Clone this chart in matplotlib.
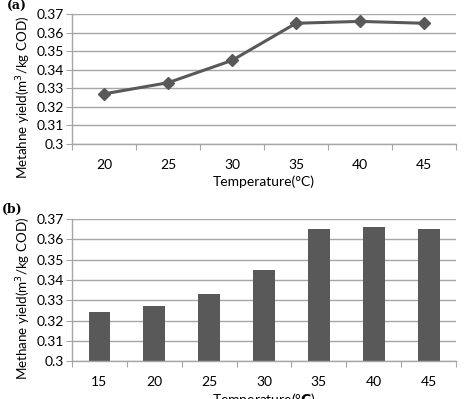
import numpy as np
import matplotlib
matplotlib.use('Agg')
import matplotlib.pyplot as plt

plt.rcParams['font.family'] = ['Lato', 'DejaVu Sans']

temps_a = ['20', '25', '30', '35', '40', '45']
yield_a = [0.327, 0.333, 0.345, 0.365, 0.366, 0.365]

temps_b = ['15', '20', '25', '30', '35', '40', '45']
yield_b = [0.324, 0.327, 0.333, 0.345, 0.365, 0.366, 0.365]

yticks = [0.3, 0.31, 0.32, 0.33, 0.34, 0.35, 0.36, 0.37]
ytick_labels = ['0.3', '0.31', '0.32', '0.33', '0.34', '0.35', '0.36', '0.37']

grid_c = '#a6a6a6'
dark = '#595959'

fig = plt.figure(figsize=(4.74, 3.99), dpi=100)


def style(ax, n):
    ax.set_xlim(-0.5, n - 0.5)
    ax.set_ylim(0.3, 0.37)
    ax.set_yticks(yticks)
    ax.set_yticklabels(ytick_labels)
    ax.yaxis.grid(True, color=grid_c, linewidth=1.0)
    ax.set_axisbelow(True)
    for s in ['top', 'right']:
        ax.spines[s].set_visible(False)
    for s in ['left', 'bottom']:
        ax.spines[s].set_color(grid_c)
        ax.spines[s].set_linewidth(1.0)
    # ticks on category boundaries, labels centred
    ax.set_xticks(np.arange(n + 1) - 0.5)
    ax.set_xticklabels([])
    ax.set_xticks(np.arange(n), minor=True)
    ax.tick_params(axis='x', which='major', length=4, color=grid_c, direction='out')
    ax.tick_params(axis='x', which='minor', length=0, labelsize=10, pad=11)
    ax.tick_params(axis='y', length=4, color=grid_c, labelsize=10, pad=2)


# (a) line chart
ax1 = fig.add_axes([0.152, 0.639, 0.810, 0.326])
x1 = np.arange(len(temps_a))
ax1.plot(x1, yield_a, color=dark, linewidth=2.2, marker='D', markersize=6.5,
         markerfacecolor=dark, markeredgecolor=dark)
style(ax1, len(temps_a))
ax1.set_xticklabels(temps_a, minor=True)
ax1.set_xlabel('Temperature(°C)', fontsize=10, labelpad=3)
ax1.set_ylabel('Metahne yield(m$^3$/kg COD)', fontsize=9.6)
ax1.yaxis.set_label_coords(-0.103, 0.36)
fig.text(0.015, 0.975, '(a)', fontsize=9, fontweight='bold', family='DejaVu Serif')

# (b) bar chart
ax2 = fig.add_axes([0.152, 0.095, 0.810, 0.356])
x2 = np.arange(len(temps_b))
ax2.bar(x2, np.array(yield_b) - 0.3, bottom=0.3, width=0.4, color=dark)
style(ax2, len(temps_b))
ax2.set_xticklabels(temps_b, minor=True)
ax2.set_xlabel('Temperature(°$\\mathbf{C}$)', fontsize=10, labelpad=2)
ax2.set_ylabel('Methane yield(m$^3$/kg COD)', fontsize=9.6)
ax2.yaxis.set_label_coords(-0.103, 0.44)
fig.text(0.005, 0.466, '(b)', fontsize=9, fontweight='bold', family='DejaVu Serif')

fig.savefig('out.png', dpi=100)
